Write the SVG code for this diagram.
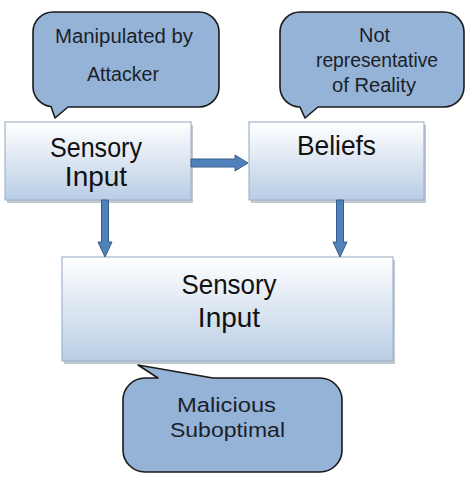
<svg xmlns="http://www.w3.org/2000/svg" width="474" height="481" viewBox="0 0 474 481">
<defs>
<linearGradient id="boxg" x1="0" y1="0" x2="0" y2="1">
<stop offset="0" stop-color="#ffffff"/>
<stop offset="1" stop-color="#b9cde5"/>
</linearGradient>
<style>
.box{fill:url(#boxg);stroke:#a3b5cb;stroke-width:1.2}
.shadow{fill:#8e9aa8;opacity:0.55}
.call{fill:#95b3d7;stroke:#1a1a1a;stroke-width:1.6;stroke-linejoin:round}
.arrow{fill:#4f81bd;stroke:#385d8a;stroke-width:1}
.big{font-family:"Liberation Sans",Arial,sans-serif;font-size:28px;fill:#111;text-anchor:middle}
.small{font-family:"Liberation Sans",Arial,sans-serif;font-size:20px;fill:#1b1f2a;text-anchor:middle}
</style>
</defs>
<rect width="474" height="481" fill="#ffffff"/>

<g id="callout-attacker">
<path class="call" d="M53,12 H199 A20,20 0 0 1 219,32 V87 A20,20 0 0 1 199,107 H68 L55,118 L51,106.5 A20,20 0 0 1 33,87 V32 A20,20 0 0 1 53,12 Z"/>
<text class="small" x="124" y="43" textLength="138" lengthAdjust="spacingAndGlyphs">Manipulated by</text>
<text class="small" x="123" y="81" textLength="72" lengthAdjust="spacingAndGlyphs">Attacker</text>
</g>

<g id="callout-reality">
<path class="call" d="M300,12 H444 A20,20 0 0 1 464,32 V87 A20,20 0 0 1 444,107 H318 L305,118 L300,107 A20,20 0 0 1 280,87 V32 A20,20 0 0 1 300,12 Z"/>
<text class="small" x="374.5" y="42" textLength="31" lengthAdjust="spacingAndGlyphs">Not</text>
<text class="small" x="377" y="67" textLength="122" lengthAdjust="spacingAndGlyphs">representative</text>
<text class="small" x="374" y="92" textLength="84" lengthAdjust="spacingAndGlyphs">of Reality</text>
</g>

<g id="node-sensory-input-1">
<rect class="shadow" x="7" y="125" width="186" height="78"/>
<rect class="box" x="5" y="122" width="186" height="78"/>
<text class="big" x="96" y="157" textLength="92" lengthAdjust="spacingAndGlyphs">Sensory</text>
<text class="big" x="96" y="186">Input</text>
</g>

<g id="node-beliefs">
<rect class="shadow" x="251" y="125" width="175" height="78"/>
<rect class="box" x="249" y="122" width="175" height="78"/>
<text class="big" x="336.5" y="155" textLength="79" lengthAdjust="spacingAndGlyphs">Beliefs</text>
</g>

<g id="node-sensory-input-2">
<rect class="shadow" x="64" y="260" width="331" height="104"/>
<rect class="box" x="62" y="257" width="331" height="104"/>
<text class="big" x="229" y="294" textLength="95" lengthAdjust="spacingAndGlyphs">Sensory</text>
<text class="big" x="229" y="327">Input</text>
</g>

<g id="callout-malicious">
<path class="call" d="M145,378 H158 L138,365 L213,378 H320 A22,22 0 0 1 342,400 V450 A22,22 0 0 1 320,472 H145 A22,22 0 0 1 123,450 V400 A22,22 0 0 1 145,378 Z"/>
<text class="small" x="226.5" y="412" textLength="99" lengthAdjust="spacingAndGlyphs">Malicious</text>
<text class="small" x="227.5" y="437" textLength="115" lengthAdjust="spacingAndGlyphs">Suboptimal</text>
</g>

<g id="connectors">
<polygon class="arrow" points="191,159 235,159 235,155 248,163 235,171 235,167 191,167"/>
<polygon class="arrow" points="101.5,200 108.5,200 108.5,242 112,242 105,257 98,242 101.5,242"/>
<polygon class="arrow" points="336.5,200 343.5,200 343.5,242 347,242 340,257 333,242 336.5,242"/>
</g>
</svg>
